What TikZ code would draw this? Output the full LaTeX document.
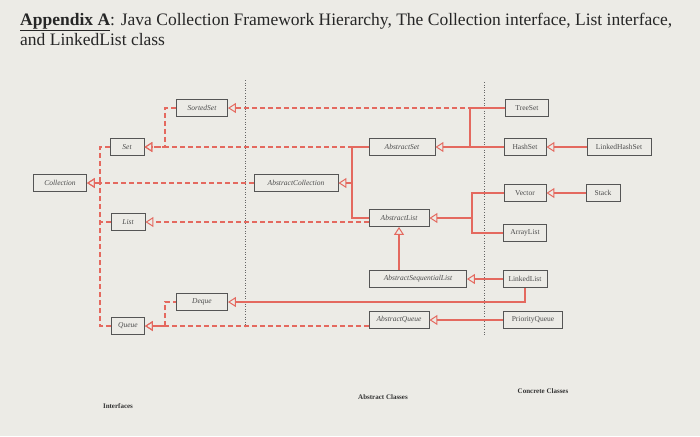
\documentclass[tikz,border=0pt]{standalone}
\usepackage{fontspec}
\setmainfont{Liberation Serif}
\usetikzlibrary{arrows.meta}
\definecolor{rl}{RGB}{228,105,95}
\definecolor{bx}{RGB}{85,85,85}
\definecolor{bg}{RGB}{236,235,230}
\begin{document}
\begin{tikzpicture}[x=1pt,y=-1pt,
  box/.style={draw=bx,line width=0.9pt,fill=bg,inner sep=0pt,minimum height=17pt,font=\fontsize{7.5}{8}\selectfont,text=black!70},
  ib/.style={box,font=\fontsize{7.5}{8}\selectfont\itshape},
  tip/.style={-{Triangle[open,length=8pt,width=10pt,line width=1pt]}},
  ln/.style={draw=rl,line width=1.1pt},
  sol/.style={ln,tip},
  dsh/.style={ln,tip,dash pattern=on 5pt off 3pt},
  dshn/.style={ln,dash pattern=on 5pt off 3pt},
  lab/.style={font=\fontsize{7}{8}\selectfont\bfseries,text=black!80}]
\fill[bg] (0,0) rectangle (700,436);
\useasboundingbox (0,0) rectangle (700,436);
\draw[black!60,dotted,line width=0.6pt] (245,80) -- (245,327);
\draw[black!60,dotted,line width=0.6pt] (484,82) -- (484,335);
% title
\node[anchor=north west,align=left,font=\fontsize{17.5}{19}\selectfont,text=black!85,inner sep=0pt] (title) at (20,13)
 {\textbf{\underline{Appendix A}}: Java Collection Framework Hierarchy, The Collection interface, List interface,\\[1pt]and LinkedList class};
% nodes
\node[ib,minimum width=53pt] (coll) at (60,183) {Collection};
\node[ib,minimum width=34pt] (set) at (127,147) {Set};
\node[ib,minimum width=51pt] (sset) at (202,108) {SortedSet};
\node[ib,minimum width=34pt] (list) at (128,222) {List};
\node[ib,minimum width=51pt] (deque) at (202,302) {Deque};
\node[ib,minimum width=33pt] (queue) at (128,326) {Queue};
\node[ib,minimum width=84pt] (acoll) at (296,183) {AbstractCollection};
\node[ib,minimum width=66pt] (aset) at (402,147) {AbstractSet};
\node[ib,minimum width=60pt] (alist) at (399,218) {AbstractList};
\node[ib,minimum width=97pt] (aslist) at (418,279) {AbstractSequentialList};
\node[ib,minimum width=60pt] (aq) at (399,320) {AbstractQueue};
\node[box,minimum width=43pt] (tset) at (527,108) {TreeSet};
\node[box,minimum width=42pt] (hset) at (525,147) {HashSet};
\node[box,minimum width=64pt] (lhs) at (619,147) {LinkedHashSet};
\node[box,minimum width=42pt] (vec) at (525,193) {Vector};
\node[box,minimum width=34pt] (stack) at (603,193) {Stack};
\node[box,minimum width=43pt] (alst) at (525,233) {ArrayList};
\node[box,minimum width=44pt] (llist) at (525,279) {LinkedList};
\node[box,minimum width=59pt] (pq) at (533,320) {PriorityQueue};
\coordinate (cv) at (100,183);
\coordinate (sv) at (165,0);
\coordinate (av) at (352,0);
\coordinate (tv) at (470,0);
\coordinate (vv) at (472,0);
% interfaces
\draw[dsh] (set.west) -- (set.west -| cv) -- (cv) -- (coll.east);
\draw[dshn] (list.west) -- (list.west -| cv);
\draw[dshn] (queue.west) -- (queue.west -| cv) -- (cv);
\draw[dsh] (sset.west) -- (sset.west -| sv) -- (set.east -| sv) -- (set.east);
\draw[dshn] (queue.east -| sv) -- (deque.west -| sv) -- (deque.west);
\draw[dsh] (queue.east -| sv) -- (queue.east);
\draw[dsh] (acoll.west) -- (coll.east);
\draw[dsh] (tset.west) -- (sset.east);
\draw[dsh] (aset.west) -- (set.east);
\draw[dsh] (alist.west |- list.east) -- (list.east);
\draw[dsh] (aq.west |- queue.east) -- (queue.east);
% abstract
\draw[ln] (aset.west) -- (aset.west -| av) -- (alist.west -| av) -- (alist.west);
\draw[sol] (acoll.east -| av) -- (acoll.east);
\draw[ln] (tset.west) -- (tset.west -| tv) -- (hset.west -| tv);
\draw[sol] (hset.west) -- (aset.east);
\draw[sol] (lhs.west) -- (hset.east);
\draw[ln] (vec.west) -- (vec.west -| vv) -- (alst.west -| vv) -- (alst.west);
\draw[sol] (alist.east -| vv) -- (alist.east);
\draw[sol] (stack.west) -- (vec.east);
\draw[sol] (aslist.north -| alist.south) -- (alist.south);
\draw[sol] (llist.west) -- (aslist.east);
\draw[sol] (llist.south) |- (deque.east);
\draw[sol] (pq.west) -- (aq.east);
% labels
\node[lab] (li) at (118,406) {Interfaces};
\node[lab] (la) at (383,397) {Abstract Classes};
\node[lab] (lc) at (543,391) {Concrete Classes};
\end{tikzpicture}
\end{document}
